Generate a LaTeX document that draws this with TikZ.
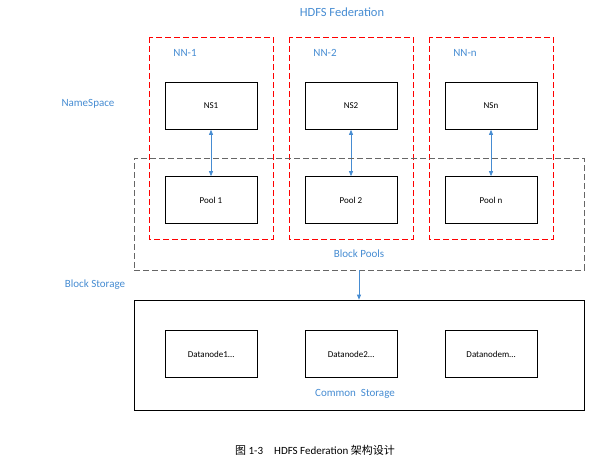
\documentclass[tikz,border=0pt]{standalone}
\usepackage{fontspec}
\setmainfont{Carlito}
\newfontfamily\cjk{Noto Sans CJK SC}
\usetikzlibrary{arrows.meta}
\definecolor{lblue}{RGB}{70,140,210}
\begin{document}
\begin{tikzpicture}[x=1pt,y=-1pt,
  box/.style={draw,line width=0.7pt,minimum width=92pt,minimum height=47pt,font=\fontsize{9}{10}\selectfont},
  lbl/.style={text=lblue,font=\fontsize{11}{13}\selectfont},
  nnbox/.style={draw=red,line width=0.8pt,dash pattern=on 6pt off 3pt},
  conn/.style={draw=lblue,line width=0.7pt,{Triangle[length=5pt,width=4pt]}-{Triangle[length=5pt,width=4pt]}}]
\useasboundingbox (0,0) rectangle (609,466);
\node[text=lblue,font=\fontsize{12.5}{14}\selectfont] (title) at (342,12) {HDFS Federation};
\draw[nnbox] (149,37) rectangle (273,239);
\draw[nnbox] (289,37) rectangle (413,239);
\draw[nnbox] (429,37) rectangle (553,239);
\node[lbl] (nn1) at (185,53) {NN-1};
\node[lbl] (nn2) at (325,53) {NN-2};
\node[lbl] (nnn) at (465,53) {NN-n};
\node[lbl] (nsl) at (88,104) {NameSpace};
\node[box] (ns1) at (211,106) {NS1};
\node[box] (ns2) at (351,106) {NS2};
\node[box] (nsn) at (491,106) {NSn};
\node[box] (p1) at (211,200) {Pool 1};
\node[box] (p2) at (351,200) {Pool 2};
\node[box] (pn) at (491,200) {Pool n};
\draw[conn] (ns1) -- (p1);
\draw[conn] (ns2) -- (p2);
\draw[conn] (nsn) -- (pn);
\node[draw=black!60,line width=0.8pt,dash pattern=on 6pt off 3pt,minimum width=450pt,minimum height=112pt] (bp) at (359,214) {};
\node[lbl] (bpl) at (359,254) {Block Pools};
\node[lbl] (bsl) at (95,285) {Block Storage};
\node[draw,line width=0.7pt,minimum width=450pt,minimum height=110pt] (cs) at (359,355) {};
\draw[draw=lblue,line width=0.7pt,-{Triangle[length=5pt,width=4pt]}] (bp.south) -- (cs.north);
\node[box] (d1) at (211,354) {Datanode1\dots};
\node[box] (d2) at (351,354) {Datanode2\dots};
\node[box] (dm) at (491,354) {Datanodem\dots};
\node[lbl] (csl) at (355,394) {Common\ \ Storage};
\node[font=\fontsize{11}{13}\selectfont] (cap) at (315,450) {{\cjk 图} 1-3\quad HDFS Federation {\cjk 架构设计}};
\end{tikzpicture}
\end{document}
